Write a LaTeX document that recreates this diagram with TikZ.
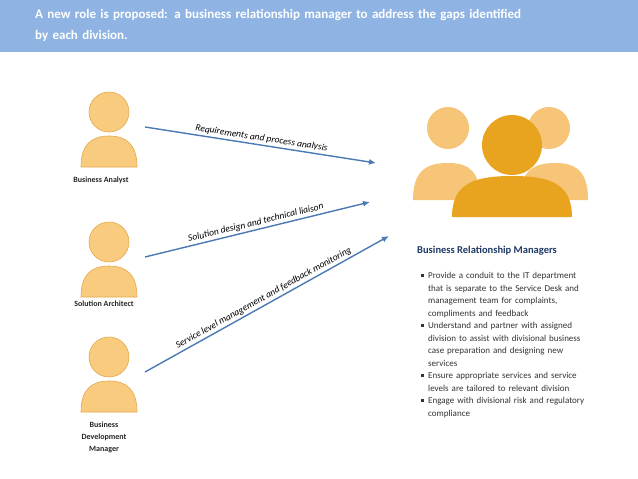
\documentclass[tikz,border=0pt]{standalone}
\usepackage{fontspec}
\setmainfont{Carlito}
\usetikzlibrary{arrows.meta}
\newcommand{\sqb}{\raisebox{1.5pt}{\rule{3pt}{3pt}}}
\begin{document}
\begin{tikzpicture}[x=1pt,y=-1pt,
  arr/.style={draw=arrblue,line width=1.4pt,-{Latex[length=7pt,width=6pt]}},
  lab/.style={font=\itshape\fontsize{9.5}{10}\selectfont,sloped,above,inner sep=2pt},
  plabel/.style={font=\bfseries\fontsize{8}{12}\selectfont,text=black!85,align=center},
  ]
\definecolor{hdr}{HTML}{8FB4E3}
\definecolor{arrblue}{HTML}{4A79B5}
\definecolor{skin}{HTML}{F9CB7F}
\definecolor{skinedge}{HTML}{E3A94A}
\definecolor{dark}{HTML}{E8A41E}
\definecolor{light}{HTML}{F7C577}
\definecolor{navy}{HTML}{1F3A66}
\useasboundingbox (0,0) rectangle (638,479);
\fill[white] (0,0) rectangle (638,479);
\fill[hdr] (0,0) rectangle (638,52);
\node[anchor=north west,text=white,font=\bfseries\fontsize{13}{21}\selectfont,align=left,text width=490pt,inner sep=0pt] (title) at (35,9) {A new role is proposed: a business relationship manager to address the gaps identified by each division.};
\newcommand{\person}[3]{%
  \fill[skin,draw=skinedge,line width=0.6pt] (#1-28,#2+55) .. controls (#1-28,#2+33) and (#1-18,#2+24) .. (#1,#2+24) .. controls (#1+18,#2+24) and (#1+28,#2+33) .. (#1+28,#2+55) -- cycle;
  \fill[skin,draw=skinedge,line width=0.6pt] (#1,#2) circle (20);
  \coordinate (#3) at (#1+36,#2+15);}
\person{109}{112}{pa}
\person{109}{242}{pb}
\person{109}{357}{pc}
\node[plabel] (la) at (101,180) {Business Analyst};
\node[plabel] (lb) at (104,304) {Solution Architect};
\node[plabel] (lc) at (104,437) {Business\\Development\\Manager};
\coordinate (ta) at (376,163);
\coordinate (tb) at (370,202);
\coordinate (tc) at (389,236);
\draw[arr] (pa) -- node[lab] {Requirements and process analysis} (ta);
\draw[arr] (pb) -- node[lab] {Solution design and technical liaison} (tb);
\draw[arr] (pc) -- node[lab] {Service level management and feedback monitoring} (tc);
\fill[light] (413,200) .. controls (413,172) and (425,163) .. (448,163) .. controls (470,163) and (480,172) .. (480,200) -- cycle;
\fill[light] (448,128) circle (21);
\fill[light] (520,200) .. controls (520,172) and (532,163) .. (555,163) .. controls (577,163) and (588,172) .. (588,200) -- cycle;
\fill[light] (549,128) circle (21);
\fill[dark] (452,217) .. controls (452,183) and (475,176) .. (512,176) .. controls (549,176) and (572,183) .. (572,217) -- cycle;
\fill[dark] (512,145) circle (30);
\node[anchor=west,text=navy,font=\bfseries\fontsize{10.5}{12}\selectfont,inner sep=0pt] (bh) at (417,251) {Business Relationship Managers};
\node[anchor=north west,text width=172pt,align=left,inner sep=0pt,font=\fontsize{9}{12.5}\selectfont,text=black!80] (bl) at (418,266) {%
\begin{list}{}{\setlength{\leftmargin}{10pt}\setlength{\labelwidth}{6pt}\setlength{\labelsep}{4pt}\setlength{\topsep}{0pt}\setlength{\itemsep}{0pt}\setlength{\parsep}{0pt}\setlength{\partopsep}{0pt}}
\item[\sqb] Provide a conduit to the IT department that is separate to the Service Desk and management team for complaints, compliments and feedback
\item[\sqb] Understand and partner with assigned division to assist with divisional business case preparation and designing new services
\item[\sqb] Ensure appropriate services and service levels are tailored to relevant division
\item[\sqb] Engage with divisional risk and regulatory compliance
\end{list}};
\end{tikzpicture}
\end{document}
